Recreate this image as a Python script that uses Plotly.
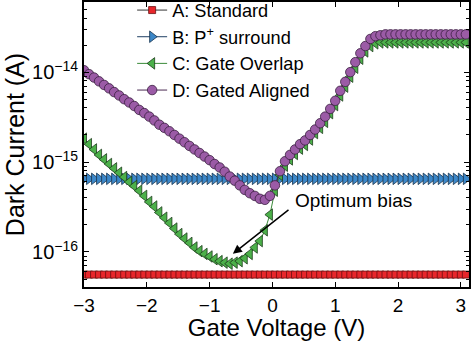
import plotly.graph_objects as go

# Gate voltage grid (V)
gate_voltage = [
    -3.00, -2.92, -2.84, -2.76, -2.68, -2.60, -2.52, -2.44, -2.36, -2.28,
    -2.20, -2.12, -2.04, -1.96, -1.88, -1.80, -1.72, -1.64, -1.56, -1.48,
    -1.40, -1.32, -1.24, -1.16, -1.08, -1.00, -0.92, -0.84, -0.76, -0.68,
    -0.60, -0.52, -0.44, -0.36, -0.28, -0.20, -0.12, -0.04, 0.04, 0.12,
    0.20, 0.28, 0.36, 0.44, 0.52, 0.60, 0.68, 0.76, 0.84, 0.92,
    1.00, 1.08, 1.16, 1.24, 1.32, 1.40, 1.48, 1.56, 1.64, 1.72,
    1.80, 1.88, 1.96, 2.04, 2.12, 2.20, 2.28, 2.36, 2.44, 2.52,
    2.60, 2.68, 2.76, 2.84, 2.92, 3.00, 3.08,
]

# Dark current, A: Standard (A)
current_standard = [
    5.6e-17, 5.6e-17, 5.6e-17, 5.6e-17, 5.6e-17, 5.6e-17, 5.6e-17, 5.6e-17, 5.6e-17, 5.6e-17,
    5.6e-17, 5.6e-17, 5.6e-17, 5.6e-17, 5.6e-17, 5.6e-17, 5.6e-17, 5.6e-17, 5.6e-17, 5.6e-17,
    5.6e-17, 5.6e-17, 5.6e-17, 5.6e-17, 5.6e-17, 5.6e-17, 5.6e-17, 5.6e-17, 5.6e-17, 5.6e-17,
    5.6e-17, 5.6e-17, 5.6e-17, 5.6e-17, 5.6e-17, 5.6e-17, 5.6e-17, 5.6e-17, 5.6e-17, 5.6e-17,
    5.6e-17, 5.6e-17, 5.6e-17, 5.6e-17, 5.6e-17, 5.6e-17, 5.6e-17, 5.6e-17, 5.6e-17, 5.6e-17,
    5.6e-17, 5.6e-17, 5.6e-17, 5.6e-17, 5.6e-17, 5.6e-17, 5.6e-17, 5.6e-17, 5.6e-17, 5.6e-17,
    5.6e-17, 5.6e-17, 5.6e-17, 5.6e-17, 5.6e-17, 5.6e-17, 5.6e-17, 5.6e-17, 5.6e-17, 5.6e-17,
    5.6e-17, 5.6e-17, 5.6e-17, 5.6e-17, 5.6e-17, 5.6e-17, 5.6e-17,
]

# Dark current, B: P+ surround (A)
current_psurround = [
    6.5e-16, 6.5e-16, 6.5e-16, 6.5e-16, 6.5e-16, 6.5e-16, 6.5e-16, 6.5e-16, 6.5e-16, 6.5e-16,
    6.5e-16, 6.5e-16, 6.5e-16, 6.5e-16, 6.5e-16, 6.5e-16, 6.5e-16, 6.5e-16, 6.5e-16, 6.5e-16,
    6.5e-16, 6.5e-16, 6.5e-16, 6.5e-16, 6.5e-16, 6.5e-16, 6.5e-16, 6.5e-16, 6.5e-16, 6.5e-16,
    6.5e-16, 6.5e-16, 6.5e-16, 6.5e-16, 6.5e-16, 6.5e-16, 6.5e-16, 6.5e-16, 6.5e-16, 6.5e-16,
    6.5e-16, 6.5e-16, 6.5e-16, 6.5e-16, 6.5e-16, 6.5e-16, 6.5e-16, 6.5e-16, 6.5e-16, 6.5e-16,
    6.5e-16, 6.5e-16, 6.5e-16, 6.5e-16, 6.5e-16, 6.5e-16, 6.5e-16, 6.5e-16, 6.5e-16, 6.5e-16,
    6.5e-16, 6.5e-16, 6.5e-16, 6.5e-16, 6.5e-16, 6.5e-16, 6.5e-16, 6.5e-16, 6.5e-16, 6.5e-16,
    6.5e-16, 6.5e-16, 6.5e-16, 6.5e-16, 6.5e-16, 6.5e-16, 6.5e-16,
]

# Dark current, C: Gate Overlap (A)
current_overlap = [
    1.82e-15, 1.58e-15, 1.38e-15, 1.20e-15, 1.07e-15, 9.5e-16, 8.5e-16, 7.6e-16, 6.8e-16, 6.0e-16,
    5.4e-16, 4.8e-16, 4.2e-16, 3.6e-16, 3.2e-16, 2.75e-16, 2.4e-16, 2.1e-16, 1.82e-16, 1.58e-16,
    1.41e-16, 1.26e-16, 1.12e-16, 1.02e-16, 9.5e-17, 8.9e-17, 8.3e-17, 7.9e-17, 7.6e-17, 7.4e-17,
    7.6e-17, 7.9e-17, 8.5e-17, 9.5e-17, 1.12e-16, 1.32e-16, 1.74e-16, 2.6e-16, 4.8e-16, 7.2e-16,
    9.1e-16, 1.07e-15, 1.23e-15, 1.41e-15, 1.55e-15, 1.78e-15, 2.1e-15, 2.4e-15, 2.8e-15, 3.5e-15,
    4.3e-15, 5.5e-15, 6.9e-15, 8.9e-15, 1.12e-14, 1.41e-14, 1.70e-14, 1.95e-14, 2.09e-14, 2.14e-14,
    2.14e-14, 2.14e-14, 2.14e-14, 2.14e-14, 2.14e-14, 2.14e-14, 2.14e-14, 2.14e-14, 2.14e-14, 2.14e-14,
    2.14e-14, 2.14e-14, 2.14e-14, 2.14e-14, 2.14e-14, 2.14e-14, 2.14e-14,
]

# Dark current, D: Gated Aligned (A)
current_aligned = [
    1.05e-14, 9.5e-15, 8.7e-15, 7.9e-15, 7.2e-15, 6.6e-15, 6.0e-15, 5.5e-15, 5.0e-15, 4.6e-15,
    4.2e-15, 3.8e-15, 3.5e-15, 3.2e-15, 2.9e-15, 2.6e-15, 2.4e-15, 2.2e-15, 2.0e-15, 1.82e-15,
    1.66e-15, 1.51e-15, 1.38e-15, 1.26e-15, 1.15e-15, 1.05e-15, 9.5e-16, 8.7e-16, 7.8e-16, 6.9e-16,
    6.2e-16, 5.5e-16, 4.9e-16, 4.5e-16, 4.2e-16, 3.9e-16, 3.8e-16, 4.2e-16, 5.5e-16, 7.9e-16,
    1.02e-15, 1.20e-15, 1.38e-15, 1.58e-15, 1.74e-15, 2.0e-15, 2.3e-15, 2.7e-15, 3.2e-15, 3.9e-15,
    4.8e-15, 6.2e-15, 7.8e-15, 1.0e-14, 1.29e-14, 1.62e-14, 1.95e-14, 2.34e-14, 2.51e-14, 2.57e-14,
    2.63e-14, 2.63e-14, 2.63e-14, 2.63e-14, 2.63e-14, 2.63e-14, 2.63e-14, 2.63e-14, 2.63e-14, 2.63e-14,
    2.63e-14, 2.63e-14, 2.63e-14, 2.63e-14, 2.63e-14, 2.63e-14, 2.63e-14,
]

x_ticks = [-3, -2, -1, 0, 1, 2, 3]
x_tick_labels = ["\u22123", "\u22122", "\u22121", "0", "1", "2", "3"]
y_ticks = [1e-16, 1e-15, 1e-14]
y_tick_labels = ["10<sup>\u221216</sup>", "10<sup>\u221215</sup>", "10<sup>\u221214</sup>"]
y_minor = [m * 10.0 ** e for e in (-17, -16, -15, -14) for m in range(2, 10)]

FONT = "Liberation Sans, Arial, sans-serif"

series = [
    ("A: Standard", current_standard, "square", 7, "#e8262b", "#6a0f10", "#333333"),
    ("B: P<sup>+</sup> surround", current_psurround, "triangle-right", 10, "#3c87c8", "#17324d", "#1f3f63"),
    ("C: Gate Overlap", current_overlap, "triangle-left", 10, "#4cb04a", "#1c3d1b", "#3a8a38"),
    ("D: Gated Aligned", current_aligned, "circle", 9.5, "#9b5ba6", "#3a1f40", "#4b2a52"),
]

fig = go.Figure()
for name, vals, sym, size, fill, edge, linecol in series:
    fig.add_trace(go.Scatter(
        x=gate_voltage, y=vals, name=name, mode="lines+markers",
        line=dict(color=linecol, width=1),
        marker=dict(symbol=sym, size=size, color=fill, line=dict(color=edge, width=0.8)),
    ))

# arrow to optimum bias
fig.add_annotation(
    x=-0.63, y=-16.02, ax=0.28, ay=-15.52, xref="x", yref="y", axref="x", ayref="y",
    text="", showarrow=True, arrowhead=2, arrowsize=1.2, arrowwidth=1.5, arrowcolor="black",
)
fig.add_annotation(
    x=0.32, y=-15.43, xref="x", yref="y", text="Optimum bias", showarrow=False,
    xanchor="left", yanchor="middle", font=dict(family=FONT, size=19, color="black"),
)

fig.update_layout(
    width=474, height=341,
    margin=dict(l=84, r=5, t=2, b=54, autoexpand=False),
    paper_bgcolor="white", plot_bgcolor="white",
    font=dict(family=FONT, size=18, color="black"),
    showlegend=True,
    legend=dict(
        x=0.125, y=1.036, xanchor="left", yanchor="top",
        bgcolor="rgba(0,0,0,0)", borderwidth=0,
        font=dict(family=FONT, size=18.2, color="black"),
        tracegroupgap=0,
    ),
)
fig.update_xaxes(
    range=[-3, 3.13], tickvals=x_ticks, ticktext=x_tick_labels,
    ticks="inside", ticklen=5, tickwidth=1.2, tickcolor="black",
    showline=True, linecolor="black", linewidth=1.8, mirror="ticks",
    showgrid=False, zeroline=False,
    tickfont=dict(family=FONT, size=19),
    title=dict(text="Gate Voltage (V)", font=dict(family=FONT, size=24), standoff=6),
)
fig.update_yaxes(
    type="log", range=[-16.39, -13.22], tickvals=y_ticks, ticktext=y_tick_labels,
    ticks="inside", ticklen=5, tickwidth=1.2, tickcolor="black",
    minor=dict(tickvals=y_minor, ticks="inside", ticklen=3, tickcolor="black", showgrid=False),
    showline=True, linecolor="black", linewidth=1.8, mirror="ticks",
    showgrid=False, zeroline=False,
    tickfont=dict(family=FONT, size=20),
    title=dict(text="Dark Current (A)", font=dict(family=FONT, size=25), standoff=0),
)

fig.write_html("out.html")
